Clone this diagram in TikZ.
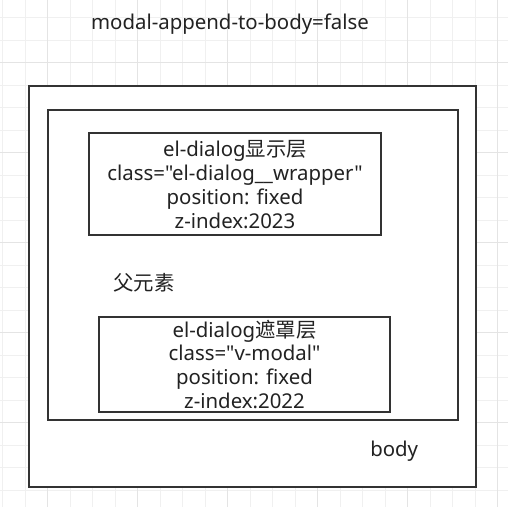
\documentclass[tikz,border=0pt]{standalone}
\usepackage{fontspec}
\setmainfont{Noto Sans}[Ligatures=TeXOff]
\newfontfamily\cjk{Noto Sans CJK SC}
\definecolor{gridminor}{HTML}{F0F0F0}
\definecolor{gridmajor}{HTML}{E4E4E4}
\definecolor{boxline}{HTML}{333333}
\definecolor{txt}{HTML}{222222}
\begin{document}
\begin{tikzpicture}[x=0.75pt,y=-0.75pt,
  frame/.style={draw=boxline,line width=2.2pt,fill=white},
  lbl/.style={font=\fontsize{15.3}{18}\selectfont,text=txt,inner sep=0pt,align=center}]
\useasboundingbox (0,0) rectangle (508,507);
\fill[white] (0,0) rectangle (508,507);
% grid
\foreach \k in {0,...,22} {
  \draw[gridminor,line width=0.75pt] ({2.5+22.5*\k},0) -- ({2.5+22.5*\k},507);
}
\foreach \k in {0,...,21} {
  \draw[gridminor,line width=0.75pt] (0,{17.5+22.5*\k}) -- (508,{17.5+22.5*\k});
}
\foreach \k in {0,...,5} {
  \draw[gridmajor,line width=0.75pt] ({47.5+90*\k},0) -- ({47.5+90*\k},507);
}
\foreach \k in {0,...,4} {
  \draw[gridmajor,line width=0.75pt] (0,{62.5+90*\k}) -- (508,{62.5+90*\k});
}
% boxes
\draw[frame] (29,86) rectangle (476,487);
\draw[frame] (48,110) rectangle (458,420);
\draw[frame] (89,133) rectangle (381,235);
\draw[frame] (99,317) rectangle (390,412);
% labels
\node[lbl] (title) at (230,24) {modal-append-to-body=false};
\node[lbl] (wrapper) at (235,184.5) {el-dialog{\cjk 显示层}\\class="el-dialog\_\_wrapper"\\position: fixed\\z-index:2023};
\node[lbl] (modal) at (244.5,364.5) {el-dialog{\cjk 遮罩层}\\class="v-modal"\\position: fixed\\z-index:2022};
\node[lbl,anchor=west] (parent) at (113,283) {\cjk 父元素};
\node[lbl,anchor=west] (body) at (370,451) {body};
\end{tikzpicture}
\end{document}
